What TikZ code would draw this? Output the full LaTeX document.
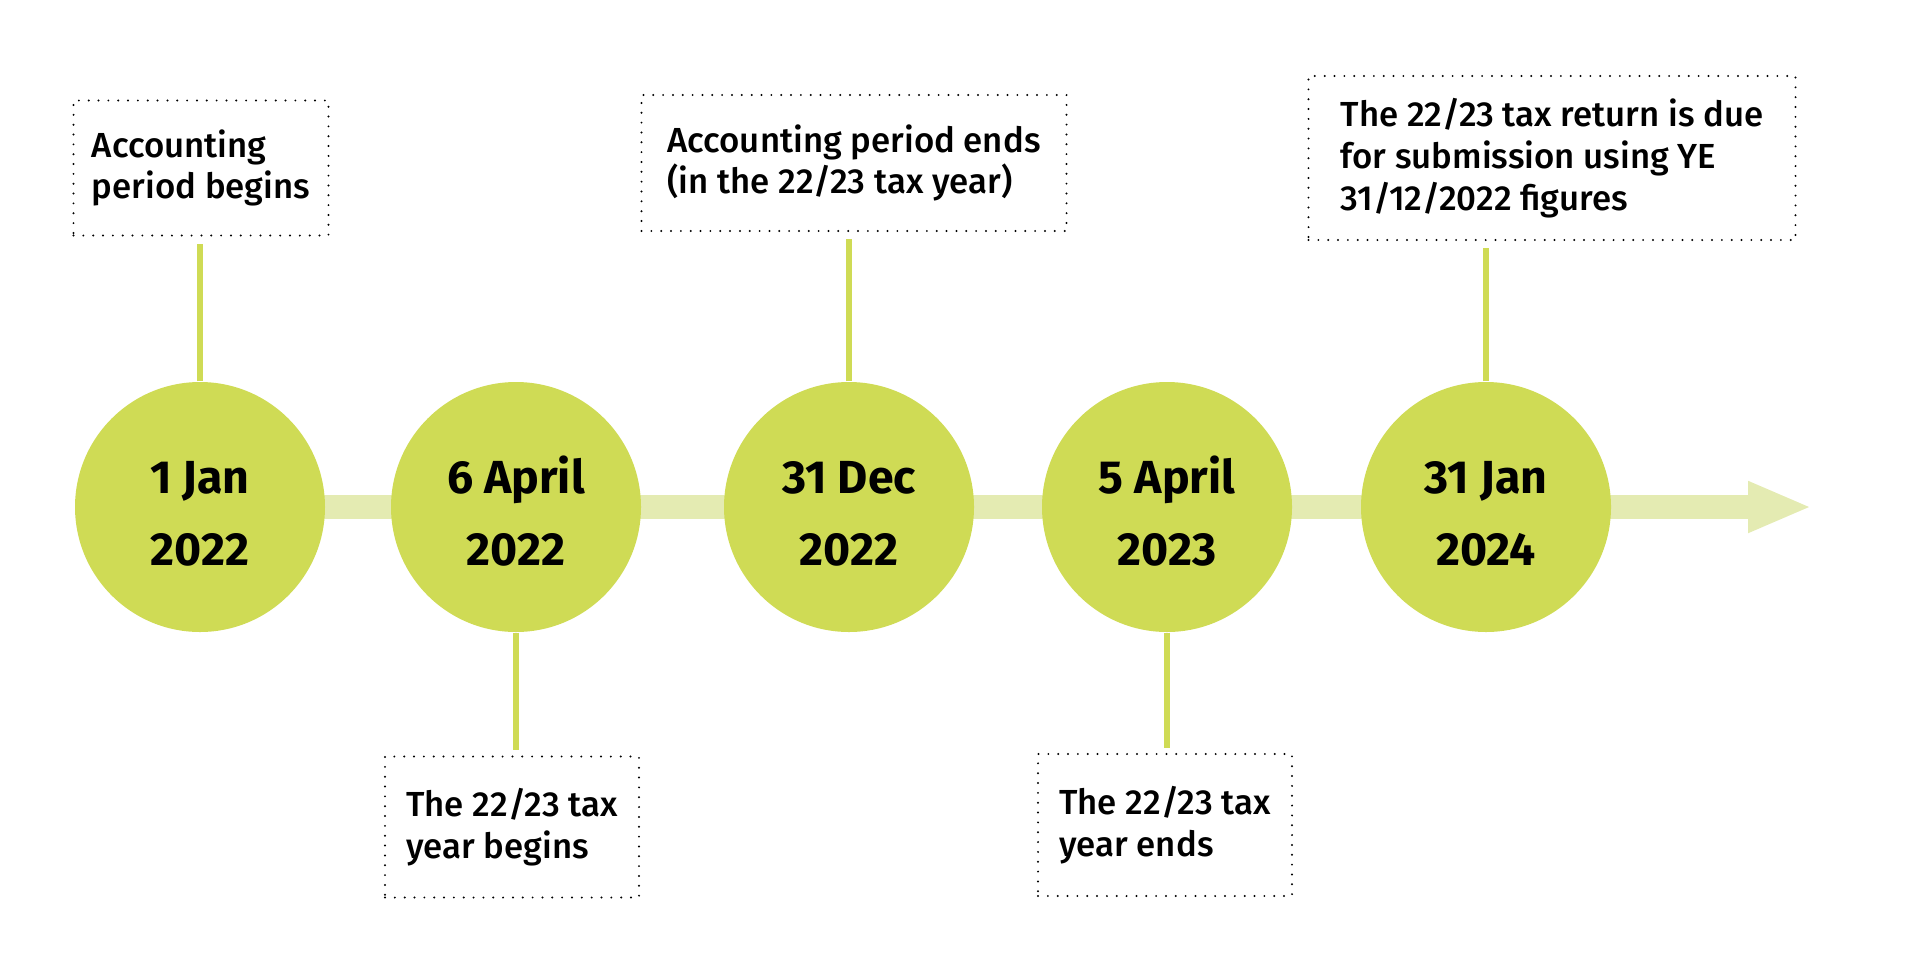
\documentclass[tikz,border=0pt]{standalone}
\usepackage{fontspec}
\setmainfont{Fira Sans}
\newfontfamily\notefont{Fira Sans Medium}
\usetikzlibrary{arrows.meta}

\definecolor{datelime}{RGB}{207,219,85}
\definecolor{barlime}{RGB}{228,235,178}

\tikzset{
	datecircle/.style={circle, fill=datelime, inner sep=0pt, minimum size=2.5cm, align=center, text height=33.4pt, text depth=0pt, font=\fontsize{13.2}{20.6}\selectfont\bfseries},
	notebox/.style={rectangle, draw=black, line width=0.62pt, dash pattern=on 0pt off 2.8pt, line cap=round, align=left, inner sep=0pt, font=\notefont\fontsize{9.9}{11.9}\selectfont},
	stem/.style={draw=datelime, line width=0.065cm},
	timebar/.style={draw=barlime, line width=0.245cm, -{Triangle[length=0.64cm, width=0.47cm]}}
}

\begin{document}
\begin{tikzpicture}
	\useasboundingbox (0,0) rectangle (19.2,9.63);

	% the time line
	\coordinate (start)	at	(2.00,4.56);
	\coordinate (tip)	at	(18.12,4.56);
	\draw[timebar]	(start)	--	(tip);

	% dates
	\node 	(c1)	at	(2.00,4.56) 	[datecircle]{1 Jan\\2022};
	\node 	(c2)	at	(5.16,4.56) 	[datecircle]{6 April\\2022};
	\node 	(c3)	at	(8.49,4.56) 	[datecircle]{31 Dec\\2022};
	\node 	(c4)	at	(11.67,4.56) 	[datecircle]{5 April\\2023};
	\node 	(c5)	at	(14.86,4.56) 	[datecircle]{31 Jan\\2024};

	% notes
	\node 	(b1)	at	(2.01,7.95) 	[notebox, minimum width=2.55cm, minimum height=1.35cm]{Accounting\\period begins};
	\node 	(b2)	at	(5.12,1.36) 	[notebox, minimum width=2.54cm, minimum height=1.41cm]{The 22/23 tax\\year begins};
	\node 	(b3)	at	(8.54,8.00) 	[notebox, minimum width=4.25cm, minimum height=1.36cm]{Accounting period ends\\(in the 22/23 tax year)};
	\node 	(b4)	at	(11.65,1.38) 	[notebox, minimum width=2.54cm, minimum height=1.42cm]{The 22/23 tax\\year ends};
	\node 	(b5)	at	(15.52,8.05) 	[notebox, minimum width=4.87cm, minimum height=1.64cm]{The 22/23 tax return is due\\for submission using YE\\31/12/2022 figures};

	\draw[stem, shorten >=0.07cm]	(c1.north)	--	(c1.north |- b1.south);
	\draw[stem, shorten >=0.05cm]	(c2.south)	--	(c2.south |- b2.north);
	\draw[stem, shorten >=0.07cm]	(c3.north)	--	(c3.north |- b3.south);
	\draw[stem, shorten >=0.05cm]	(c4.south)	--	(c4.south |- b4.north);
	\draw[stem, shorten >=0.07cm]	(c5.north)	--	(c5.north |- b5.south);

\end{tikzpicture}
\end{document}
